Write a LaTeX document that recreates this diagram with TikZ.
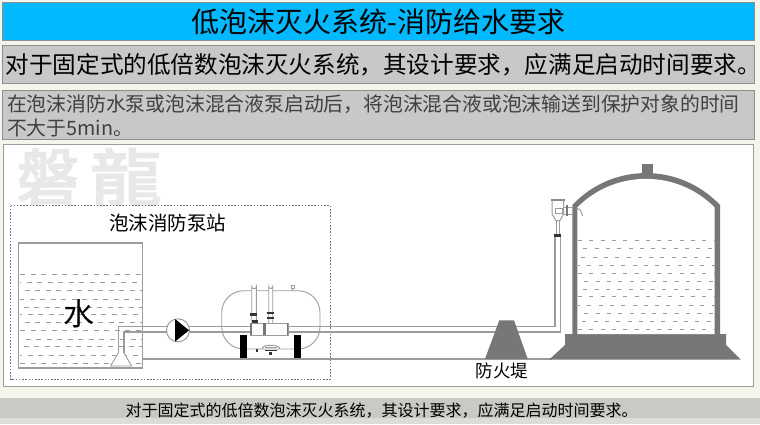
\documentclass[tikz,border=0pt]{standalone}
\usepackage{fontspec}
\setmainfont{Noto Sans CJK SC}[BoldFont=*,BoldFeatures={FakeBold=3}]
\definecolor{pagebg}{HTML}{F4F6EC}
\definecolor{titleblue}{HTML}{00B9FF}
\definecolor{panelgray}{HTML}{C8C8C8}
\definecolor{edgegray}{HTML}{8E8E8E}
\definecolor{stripgray}{HTML}{C9C9C6}
\definecolor{striplight}{HTML}{DDDDD8}
\definecolor{solidgray}{HTML}{777777}
\definecolor{linegray}{HTML}{9C9C9C}
\definecolor{markgray}{HTML}{E8E8E6}
\tikzset{
  banner/.style={draw=edgegray,line width=.8pt},
  pipeline/.style={draw=linegray,line width=1.1pt},
  waterlineA/.style={draw=linegray,line width=.9pt,dash pattern=on 5pt off 5.5pt},
  waterlineB/.style={draw=linegray,line width=.9pt,dash pattern=on 4pt off 7.3pt},
  blackpart/.style={fill=black,draw=none},
  whitepart/.style={fill=white,draw=linegray,line width=.9pt},
  txt/.style={inner sep=0pt,anchor=center,text=black},
}
\begin{document}
\begin{tikzpicture}[x=1pt,y=-1pt]
\useasboundingbox (0,0) rectangle (760,424);
\fill[pagebg] (0,0) rectangle (760,424);
% banners
\filldraw[banner,fill=titleblue] (2.5,2.5) rectangle (754,40);
\filldraw[banner,fill=panelgray] (2.5,45.5) rectangle (754,83);
\filldraw[banner,fill=panelgray] (2.5,90.5) rectangle (754,139);
\fill[stripgray] (0,398) rectangle (760,418);
\fill[striplight] (0,418) rectangle (760,424);
\node[txt,font=\fontsize{28}{28}\selectfont] (title) at (378.5,21.5) {低泡沫灭火系统-消防给水要求};
\node[txt,anchor=west,font=\fontsize{23.6}{23.6}\selectfont] (sub) at (5.5,64.5) {对于固定式的低倍数泡沫灭火系统，其设计要求，应满足启动时间要求。\kern-11pt};
\node[txt,anchor=west,text=black!75,font=\fontsize{19.8}{19.8}\selectfont] (l1) at (7,104) {在泡沫消防水泵或泡沫混合液泵启动后，将泡沫混合液或泡沫输送到保护对象的时间};
\node[txt,anchor=west,text=black!75,font=\fontsize{19.8}{19.8}\selectfont] (l2) at (7,128) {不大于5min。};
\node[txt,font=\fontsize{16}{16}\selectfont] (cap) at (381.5,410.5) {对于固定式的低倍数泡沫灭火系统，其设计要求，应满足启动时间要求。};
% main panel
\filldraw[draw=linegray,line width=.9pt,fill=white] (3.5,144.5) rectangle (753,386.5);
\node[txt,text=markgray,font=\bfseries\fontsize{62}{62}\selectfont] (m1) at (48,177) {磐};
\node[txt,text=markgray,xscale=1.15,font=\bfseries\fontsize{62}{62}\selectfont] (m2) at (126,177) {龍};
\draw[draw=black!55,line width=.7pt,dash pattern=on 1.6pt off 1.6pt] (10.5,205.5) rectangle (330,379.5);
\node[txt,font=\fontsize{19.5}{19.5}\selectfont] (station) at (167.5,223) {泡沫消防泵站};
% water tank
\draw[draw=linegray,line width=1.2pt] (18.7,243) rectangle (142.7,368);
\foreach \y/\o in {274.7/0,282.7/4,290.7/6,299/1,307.3/7,314.7/3,322.3/6,330.3/0,339/5,346.7/7,355/3,363/0}
  \draw[waterlineA,dash phase=\o pt] (20,\y) -- (142,\y);
\node[txt,font=\fontsize{31}{31}\selectfont] (water) at (78.5,314) {水};
% ground line
\draw[draw=linegray,line width=1.8pt] (142.7,358.7) -- (552,358.7);
% pressure foam tank
\draw[whitepart] (221.7,290.7) [rounded corners=22pt] -- (320,290.7) -- (320,349) -- (221.7,349) -- cycle;
% suction and discharge pipe
\draw[pipeline] (118.3,356) -- (118.3,326.5) -- (555,326.5) -- (555,235);
\draw[pipeline] (124,356) -- (124,332) -- (560.7,332) -- (560.7,235);
% funnel
\draw[whitepart,line join=round] (118.3,353) -- (110.5,366) -- (131.7,366) -- (124,353);
% pump
\filldraw[fill=white,draw=linegray,line width=1pt] (178,330.3) circle[radius=11.5];
\fill[black] (175,319) -- (189,330.3) -- (175,341.7) -- cycle;
% legs
\fill[black] (240,335) rectangle (246.7,358.3);
\fill[black] (294,335) rectangle (300.7,358.3);
% fittings on the foam tank
\filldraw[whitepart] (251.7,322) -- (251.7,286.5) arc[start angle=180,end angle=0,radius=2.3] -- (256.3,322);
\filldraw[whitepart] (268.7,325) -- (268.7,286.5) arc[start angle=180,end angle=0,radius=2] -- (272.7,325);
\fill[black!80] (250,313) rectangle (256.7,315.5);
\fill[black!80] (252,320) rectangle (257.5,322.7);
\fill[black!80] (266.7,311.5) rectangle (274,313.5);
\fill[black!80] (266.7,317) rectangle (274,319);
\filldraw[whitepart] (250,323.3) rectangle (288.3,335);
\fill[solidgray] (250,323.3) rectangle (251.8,335);
\fill[solidgray] (262.5,323.3) rectangle (265.7,335);
\fill[solidgray] (286.5,323.3) rectangle (288.3,335);
\draw[whitepart,line width=.8pt] (291,285.5) rectangle (294.5,288.8);
\draw[linegray,line width=.8pt] (292.7,288.8) -- (292.7,290.7);
% valve under the tank
\draw[linegray,line width=1pt] (262,349) .. controls (262,344) and (280,344) .. (280,349);
\draw[linegray,line width=.9pt] (265,347) -- (277,347);
\fill[black!80] (265,349.5) rectangle (277,351);
\fill[black!80] (256,349) rectangle (258,351.5);
\fill[black!80] (269,352) rectangle (271.5,355);
% dike
\fill[solidgray] (499.3,320.3) -- (514,320.3) -- (527.7,358.9) -- (485,358.9) -- cycle;
\node[txt,font=\fontsize{17.5}{17.5}\selectfont] (dike) at (502,371) {防火堤};
% big tank
\fill[solidgray] (549.3,359.5) -- (565,345) -- (565,334) -- (572.3,334) -- (572.3,205)
  .. controls (612.4,162.4) and (679.6,162.4) .. (720,205) -- (720,334) -- (726,334) -- (726,345) -- (740.7,359.5) -- cycle;
\fill[white] (577.3,334) -- (577.3,207.5) .. controls (615.1,169.3) and (676.9,169.3) .. (714.7,207.5) -- (714.7,334) -- cycle;
\fill[solidgray] (642,164) rectangle (653,174);
\foreach \y/\o in {240.7/0,248.7/6,257/8,265/2,273.3/0,281/5,289/6,296.3/0,305/2,313.3/5,321.3/7,329/0}
  \draw[waterlineB,dash phase=\o pt] (578,\y) -- (714.5,\y);
% foam chamber
\fill[black!80] (553.7,234) rectangle (561,236.5);
\draw[linegray,line width=1pt] (556.5,234) -- (556.5,221) (559.5,234) -- (559.5,221);
\draw[whitepart,line width=1pt] (552,200) -- (552,214) -- (556,220.5) -- (560,220.5) -- (563.5,214) -- (563.5,200);
\draw[draw=black!45,line width=1.6pt] (551,200.2) -- (564.5,200.2);
\draw[whitepart,line width=.8pt] (555,208) rectangle (562,213);
\draw[linegray,line width=1pt] (563.5,207) -- (572.3,207) (563.5,214) -- (572.3,214);
\fill[solidgray] (566,205) rectangle (568,216);
\draw[linegray,line width=1pt] (577.3,208.5) .. controls (580,209) and (582,212) .. (582.3,216);
\end{tikzpicture}
\end{document}
